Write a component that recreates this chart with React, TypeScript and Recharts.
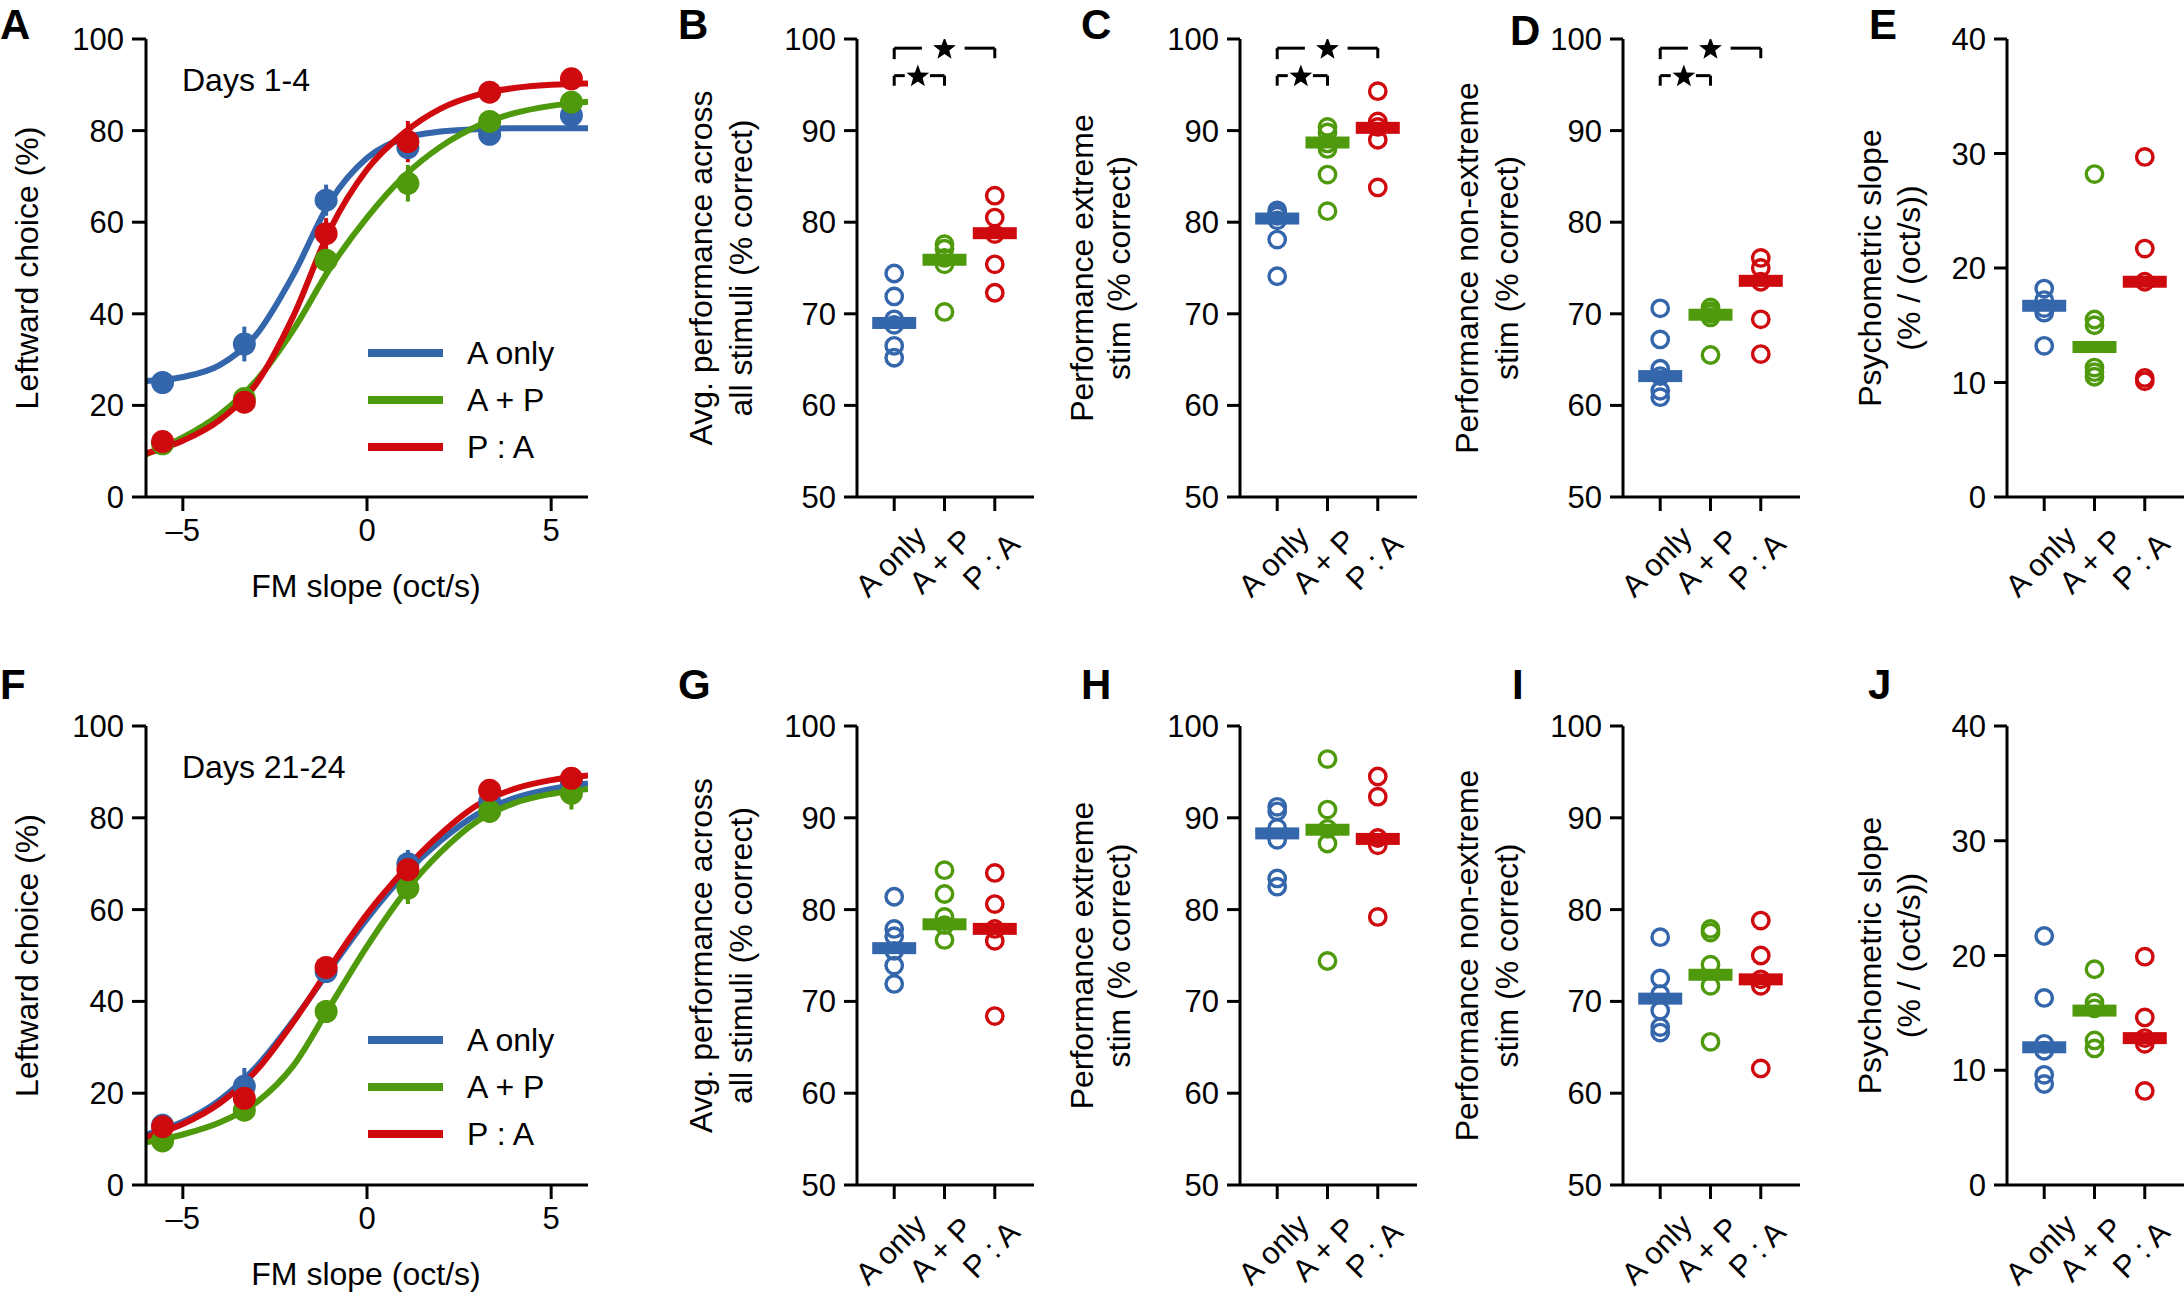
import React from 'react'
import { ComposedChart, Line, Scatter, XAxis, YAxis, ErrorBar, ReferenceLine } from 'recharts'

const FONT = '"Liberation Sans", Arial, Helvetica, sans-serif'
const BLUE = '#3466ab'
const GREEN = '#4f9a0c'
const RED = '#cf0a0e'
const COLORS = [BLUE, GREEN, RED]
const GROUPS = ['A only', 'A + P', 'P : A']

// ---- psychometric functions (panels A and F) ----
const FM_SLOPES = [-5.55, -3.33, -1.11, 1.11, 3.33, 5.55]
const FIT_SLOPES = [-6, -5, -4, -3, -2, -1, 0, 1, 2, 3, 4, 5, 6]

// days 1-4
const earlyAOnly = [25.0, 33.4, 64.8, 76.3, 79.2, 83.3]
const earlyAOnlyErr = [1.6, 3.8, 3.4, 2.2, 1.6, 1.8]
const earlyAOnlyFit = [25.3, 26.2, 28.8, 35.5, 48.5, 64.5, 74.0, 78.3, 79.8, 80.3, 80.5, 80.5, 80.5]
const earlyAP = [11.6, 21.5, 51.7, 68.5, 82.0, 86.2]
const earlyAPErr = [1.5, 1.8, 3.0, 4.0, 1.8, 1.8]
const earlyAPFit = [9.3, 13.0, 18.0, 25.5, 36.5, 50.0, 61.0, 70.0, 76.5, 81.0, 83.8, 85.4, 86.3]
const earlyPA = [12.1, 20.7, 57.5, 77.6, 88.4, 91.3]
const earlyPAErr = [1.2, 1.5, 3.4, 4.5, 1.4, 1.2]
const earlyPAFit = [9.5, 12.3, 16.8, 24.8, 39.5, 58.5, 71.5, 79.5, 84.8, 87.8, 89.3, 90.0, 90.3]

// days 21-24
const lateAOnly = [13.0, 21.5, 46.5, 70.0, 83.5, 87.5]
const lateAOnlyErr = [2.5, 4.0, 2.0, 3.0, 1.5, 1.5]
const lateAOnlyFit = [11.0, 13.8, 18.5, 25.8, 35.8, 47.0, 58.0, 67.5, 75.0, 80.8, 84.3, 86.3, 87.5]
const lateAP = [9.6, 16.3, 37.8, 64.7, 81.4, 85.3]
const lateAPErr = [1.5, 1.5, 2.5, 3.5, 2.5, 3.5]
const lateAPFit = [9.3, 11.0, 13.6, 18.0, 26.0, 39.0, 52.0, 63.5, 72.5, 79.3, 83.2, 85.2, 86.3]
const latePA = [12.7, 18.9, 47.4, 68.7, 86.0, 88.6]
const latePAErr = [1.5, 2.0, 2.0, 2.0, 1.5, 1.0]
const latePAFit = [10.5, 13.3, 17.8, 25.0, 35.5, 47.5, 59.0, 68.5, 76.5, 82.8, 86.3, 88.2, 89.2]

// ---- per-animal summary values, one array per group (A only, A + P, P : A) ----
const earlyAvg = [[74.4, 71.9, 69.4, 68.8, 66.5, 65.2], [77.6, 77.1, 76.1, 75.4, 70.2], [82.9, 80.5, 78.7, 75.4, 72.3]]
const earlyAvgMedian = [69.0, 75.9, 78.8]
const earlyExtreme = [[81.3, 81.0, 80.7, 80.2, 78.1, 74.1], [90.4, 89.8, 88.6, 88.0, 85.2, 81.2], [94.3, 91.0, 90.4, 89.0, 83.8]]
const earlyExtremeMedian = [80.4, 88.7, 90.3]
const earlyNonExtreme = [[70.6, 67.2, 64.0, 63.2, 61.6, 60.9], [70.7, 70.3, 70.0, 69.6, 65.5], [76.1, 75.0, 73.5, 69.4, 65.6]]
const earlyNonExtremeMedian = [63.2, 69.9, 73.6]
const earlySlope = [[18.2, 17.2, 16.5, 16.1, 13.2], [28.2, 15.5, 15.0, 11.3, 10.9, 10.5], [29.7, 21.7, 18.8, 10.4, 10.1]]
const earlySlopeMedian = [16.7, 13.1, 18.8]

const lateAvg = [[81.4, 77.9, 77.1, 75.5, 73.9, 71.9], [84.3, 81.7, 79.2, 78.3, 76.7], [84.0, 80.6, 77.9, 76.6, 68.4]]
const lateAvgMedian = [75.8, 78.4, 77.9]
const lateExtreme = [[91.2, 90.7, 88.9, 87.6, 83.4, 82.5], [96.4, 90.9, 88.8, 87.2, 74.4], [94.5, 92.3, 87.8, 87.0, 79.2]]
const lateExtremeMedian = [88.3, 88.7, 87.7]
const lateNonExtreme = [[77.0, 72.5, 70.8, 69.0, 67.2, 66.6], [77.9, 77.5, 74.0, 71.7, 65.6], [78.8, 75.0, 72.4, 71.7, 62.7]]
const lateNonExtremeMedian = [70.3, 72.9, 72.4]
const lateSlope = [[21.7, 16.3, 12.3, 11.7, 9.6, 8.8], [18.8, 15.9, 15.4, 12.6, 11.9], [19.9, 14.6, 12.8, 12.3, 8.2]]
const lateSlopeMedian = [12.0, 15.2, 12.8]

const PERF_TICKS = [50, 60, 70, 80, 90, 100]
const SLOPE_TICKS = [0, 10, 20, 30, 40]

// significance brackets (data units: x = group index, y = axis value)
const BRACKET_SEGMENTS = [
  [{ x: 0, y: 97.8 }, { x: 0, y: 99 }],
  [{ x: 0, y: 99 }, { x: 0.55, y: 99 }],
  [{ x: 1.4, y: 99 }, { x: 2, y: 99 }],
  [{ x: 2, y: 99 }, { x: 2, y: 97.9 }],
  [{ x: 0, y: 94.9 }, { x: 0, y: 96 }],
  [{ x: 0, y: 96 }, { x: 0.21, y: 96 }],
  [{ x: 0.71, y: 96 }, { x: 1, y: 96 }],
  [{ x: 1, y: 96 }, { x: 1, y: 94.9 }],
]
const STAR_POINTS = [{ x: 1.0, y: 98.9 }, { x: 0.47, y: 95.9 }]

const earlySeries = [
  { pts: earlyAOnly, err: earlyAOnlyErr, fit: earlyAOnlyFit },
  { pts: earlyAP, err: earlyAPErr, fit: earlyAPFit },
  { pts: earlyPA, err: earlyPAErr, fit: earlyPAFit },
]
const lateSeries = [
  { pts: lateAOnly, err: lateAOnlyErr, fit: lateAOnlyFit },
  { pts: lateAP, err: lateAPErr, fit: lateAPFit },
  { pts: latePA, err: latePAErr, fit: latePAFit },
]

const AXIS = { stroke: '#000', strokeWidth: 3 }
const TICK = { fill: '#000', fontSize: 31, fontFamily: FONT }

const fmtSlope = (v: number) => (v < 0 ? '\u2013' + Math.abs(v) : String(v))

const filledDot = (color: string) => (p: any) => <circle cx={p.cx} cy={p.cy} r={11.5} fill={color} />
const openDot = (color: string) => (p: any) => (
  <circle cx={p.cx} cy={p.cy} r={8.2} fill="none" stroke={color} strokeWidth={3.4} />
)
const medianBar = (color: string) => (p: any) => (
  <rect x={p.cx - 22} y={p.cy - 6} width={44} height={12} fill={color} />
)
const starShape = (p: any) => {
  const pts: string[] = []
  for (let i = 0; i < 10; i++) {
    const r = i % 2 === 0 ? 12 : 5
    const a = -Math.PI / 2 + (i * Math.PI) / 5
    pts.push(`${p.cx + r * Math.cos(a)},${p.cy + r * Math.sin(a)}`)
  }
  return <polygon points={pts.join(' ')} fill="#000" />
}

// group names under the strip plots, slanted 45 degrees
const CategoryTick = (props: any) => {
  const { x, y, payload } = props
  const ax = x + 4
  const ay = y + 58
  return (
    <text x={ax} y={ay} transform={`rotate(-45 ${ax} ${ay})`} textAnchor="middle"
      fontSize={31} fontFamily={FONT} fill="#000">
      {GROUPS[payload.value]}
    </text>
  )
}

function PsychPanel({ plotTop, plotH, series }: any) {
  return (
    <div style={{ position: 'absolute', left: 0, top: plotTop - 30 }}>
      <ComposedChart width={600} height={30 + plotH + 60 + 10} margin={{ top: 30, right: 12, bottom: 10, left: 86 }}>
        <XAxis dataKey="x" type="number" domain={[-6, 6]} ticks={[-5, 0, 5]} interval={0}
          tickFormatter={fmtSlope} tickSize={14} tickMargin={8} height={60}
          axisLine={AXIS} tickLine={AXIS} tick={TICK} allowDataOverflow />
        <YAxis type="number" domain={[0, 100]} ticks={[0, 20, 40, 60, 80, 100]} interval={0}
          width={60} tickSize={14} tickMargin={8} axisLine={AXIS} tickLine={AXIS} tick={TICK} allowDataOverflow />
        {series.map((s: any, g: number) => [
          <Line key={'f' + g} data={FIT_SLOPES.map((x, i) => ({ x, y: s.fit[i] }))} dataKey="y"
            type="monotone" stroke={COLORS[g]} strokeWidth={6} dot={false} activeDot={false}
            isAnimationActive={false} />,
          <Scatter key={'p' + g} data={FM_SLOPES.map((x, i) => ({ x, y: s.pts[i], err: s.err[i] }))}
            dataKey="y" shape={filledDot(COLORS[g])} isAnimationActive={false}>
            <ErrorBar dataKey="err" direction="y" width={0} stroke={COLORS[g]} strokeWidth={4} />
          </Scatter>,
        ])}
      </ComposedChart>
    </div>
  )
}

function StripPanel({ axisX, plotTop, plotH, yTicks, values, medians, stars }: any) {
  const chartH = Math.min(30 + plotH + 140, 1297 - (plotTop - 30))
  return (
    <div style={{ position: 'absolute', left: axisX - 140, top: plotTop - 30 }}>
      <ComposedChart width={317} height={chartH} margin={{ top: 30, right: 0, bottom: 0, left: 80 }}>
        <XAxis dataKey="x" type="number" domain={[-0.74, 2.78]} ticks={[0, 1, 2]} interval={0}
          tick={CategoryTick} tickSize={14} tickMargin={0} height={chartH - 30 - plotH}
          axisLine={AXIS} tickLine={AXIS} allowDataOverflow />
        <YAxis type="number" domain={[yTicks[0], yTicks[yTicks.length - 1]]} ticks={yTicks} interval={0}
          width={60} tickSize={13} tickMargin={8} axisLine={AXIS} tickLine={AXIS} tick={TICK} allowDataOverflow />
        {stars && BRACKET_SEGMENTS.map((seg, i) => (
          <ReferenceLine key={'b' + i} segment={seg} stroke="#000" strokeWidth={3} ifOverflow="visible" />
        ))}
        {values.map((vals: number[], g: number) => (
          <Scatter key={'v' + g} data={vals.map((v) => ({ x: g, y: v }))} dataKey="y"
            shape={openDot(COLORS[g])} isAnimationActive={false} />
        ))}
        {medians.map((m: number, g: number) => (
          <Scatter key={'m' + g} data={[{ x: g, y: m }]} dataKey="y"
            shape={medianBar(COLORS[g])} isAnimationActive={false} />
        ))}
        {stars && <Scatter data={STAR_POINTS} dataKey="y" shape={starShape} isAnimationActive={false} />}
      </ComposedChart>
    </div>
  )
}

// layout
const ROW_TOP = [39, 726]
const ROW_H = [458, 459]
const STRIP_AXIS_X = [857, 1240, 1623, 2007]
const STRIP_TITLES = [
  ['Avg. performance across', 'all stimuli (% correct)'],
  ['Performance extreme', 'stim (% correct)'],
  ['Performance non-extreme', 'stim (% correct)'],
  ['Psychometric slope', '(% / (oct/s))'],
]
const TITLE_X = [[712, 752], [1093, 1130], [1478, 1518], [1881, 1920]]
const LETTERS: [string, number, number][] = [
  ['A', 0, 39], ['B', 678, 39], ['C', 1081, 39], ['D', 1510, 45], ['E', 1869, 39],
  ['F', 0, 699], ['G', 678, 699], ['H', 1081, 699], ['I', 1512, 699], ['J', 1868, 699],
]

const earlyStrips = [
  { values: earlyAvg, medians: earlyAvgMedian, ticks: PERF_TICKS, stars: true },
  { values: earlyExtreme, medians: earlyExtremeMedian, ticks: PERF_TICKS, stars: true },
  { values: earlyNonExtreme, medians: earlyNonExtremeMedian, ticks: PERF_TICKS, stars: true },
  { values: earlySlope, medians: earlySlopeMedian, ticks: SLOPE_TICKS, stars: false },
]
const lateStrips = [
  { values: lateAvg, medians: lateAvgMedian, ticks: PERF_TICKS, stars: false },
  { values: lateExtreme, medians: lateExtremeMedian, ticks: PERF_TICKS, stars: false },
  { values: lateNonExtreme, medians: lateNonExtremeMedian, ticks: PERF_TICKS, stars: false },
  { values: lateSlope, medians: lateSlopeMedian, ticks: SLOPE_TICKS, stars: false },
]

export default function App() {
  const rows = [
    { series: earlySeries, strips: earlyStrips, days: 'Days 1-4' },
    { series: lateSeries, strips: lateStrips, days: 'Days 21-24' },
  ]
  return (
    <div style={{ position: 'absolute', left: 0, top: 0, width: 2184, height: 1297, overflow: 'hidden', background: '#fff' }}>
      {rows.map((row, r) => (
        <React.Fragment key={r}>
          <PsychPanel plotTop={ROW_TOP[r]} plotH={ROW_H[r]} series={row.series} />
          {row.strips.map((s, i) => (
            <StripPanel key={i} axisX={STRIP_AXIS_X[i]} plotTop={ROW_TOP[r]} plotH={ROW_H[r]}
              yTicks={s.ticks} values={s.values} medians={s.medians} stars={s.stars} />
          ))}
        </React.Fragment>
      ))}

      <svg width={2184} height={1297} style={{ position: 'absolute', left: 0, top: 0, pointerEvents: 'none' }}
        fontFamily={FONT} fill="#000">
        {LETTERS.map(([t, x, y]) => (
          <text key={t} x={x} y={y} fontSize={42} fontWeight="bold">{t}</text>
        ))}
        {rows.map((row, r) => {
          const top = ROW_TOP[r]
          const mid = top + ROW_H[r] / 2
          const legendY = [top + 314, top + 361, top + 408]
          return (
            <g key={r}>
              <text x={38} y={mid} fontSize={32} textAnchor="middle" transform={`rotate(-90 38 ${mid})`}>
                Leftward choice (%)
              </text>
              <text x={366} y={top + ROW_H[r] + 100} fontSize={32} textAnchor="middle">FM slope (oct/s)</text>
              <text x={182} y={top + 52} fontSize={32}>{row.days}</text>
              {GROUPS.map((g, i) => (
                <g key={g}>
                  <line x1={368} x2={443} y1={legendY[i]} y2={legendY[i]} stroke={COLORS[i]} strokeWidth={8} />
                  <text x={467} y={legendY[i] + 11} fontSize={32}>{g}</text>
                </g>
              ))}
              {STRIP_TITLES.map((lines, i) =>
                lines.map((line, k) => {
                  const x = TITLE_X[i][k]
                  return (
                    <text key={i + '-' + k} x={x} y={mid} fontSize={32} textAnchor="middle"
                      transform={`rotate(-90 ${x} ${mid})`}>
                      {line}
                    </text>
                  )
                })
              )}
            </g>
          )
        })}
      </svg>
    </div>
  )
}
